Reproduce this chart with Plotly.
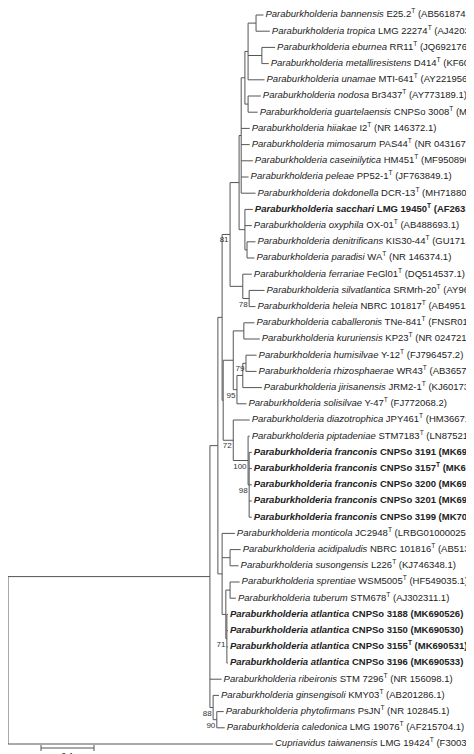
import plotly.graph_objects as go

# tip labels (html), tip depth (branch distance from root)
tips = [
 ("<i>Paraburkholderia bannensis</i> E25.2<sup>T</sup> (AB561874.1)", 0.482),
 ("<i>Paraburkholderia tropica</i> LMG 22274<sup>T</sup> (AJ420332.1)", 0.494),
 ("<i>Paraburkholderia eburnea</i> RR11<sup>T</sup> (JQ692176.1)", 0.504),
 ("<i>Paraburkholderia metalliresistens</i> D414<sup>T</sup> (KF601211.1)", 0.492),
 ("<i>Paraburkholderia unamae</i> MTI-641<sup>T</sup> (AY221956.1)", 0.484),
 ("<i>Paraburkholderia nodosa</i> Br3437<sup>T</sup> (AY773189.1)", 0.477),
 ("<i>Paraburkholderia guartelaensis</i> CNPSo 3008<sup>T</sup> (MK690537.1)", 0.471),
 ("<i>Paraburkholderia hiiakae</i> I2<sup>T</sup> (NR 146372.1)", 0.456),
 ("<i>Paraburkholderia mimosarum</i> PAS44<sup>T</sup> (NR 043167.1)", 0.456),
 ("<i>Paraburkholderia caseinilytica</i> HM451<sup>T</sup> (MF950896.1)", 0.462),
 ("<i>Paraburkholderia peleae</i> PP52-1<sup>T</sup> (JF763849.1)", 0.454),
 ("<i>Paraburkholderia dokdonella</i> DCR-13<sup>T</sup> (MH718804.2)", 0.467),
 ("<b><i>Paraburkholderia sacchari</i> LMG 19450<sup>T</sup> (AF263278.1)</b>", 0.462),
 ("<i>Paraburkholderia oxyphila</i> OX-01<sup>T</sup> (AB488693.1)", 0.460),
 ("<i>Paraburkholderia denitrificans</i> KIS30-44<sup>T</sup> (GU171384.1)", 0.467),
 ("<i>Paraburkholderia paradisi</i> WA<sup>T</sup> (NR 146374.1)", 0.465),
 ("<i>Paraburkholderia ferrariae</i> FeGl01<sup>T</sup> (DQ514537.1)", 0.460),
 ("<i>Paraburkholderia silvatlantica</i> SRMrh-20<sup>T</sup> (AY965240.1)", 0.484),
 ("<i>Paraburkholderia heleia</i> NBRC 101817<sup>T</sup> (AB495123.1)", 0.467),
 ("<i>Paraburkholderia caballeronis</i> TNe-841<sup>T</sup> (FNSR01000001.1)", 0.465),
 ("<i>Paraburkholderia kururiensis</i> KP23<sup>T</sup> (NR 024721.1)", 0.475),
 ("<i>Paraburkholderia humisilvae</i> Y-12<sup>T</sup> (FJ796457.2)", 0.469),
 ("<i>Paraburkholderia rhizosphaerae</i> WR43<sup>T</sup> (AB365791.2)", 0.469),
 ("<i>Paraburkholderia jirisanensis</i> JRM2-1<sup>T</sup> (KJ601731.1)", 0.479),
 ("<i>Paraburkholderia solisilvae</i> Y-47<sup>T</sup> (FJ772068.2)", 0.450),
 ("<i>Paraburkholderia diazotrophica</i> JPY461<sup>T</sup> (HM366717.1)", 0.456),
 ("<i>Paraburkholderia piptadeniae</i> STM7183<sup>T</sup> (LN875219.1)", 0.456),
 ("<b><i>Paraburkholderia franconis</i> CNPSo 3191 (MK690527)</b>", 0.460),
 ("<b><i>Paraburkholderia franconis</i> CNPSo 3157<sup>T</sup> (MK690525)</b>", 0.460),
 ("<b><i>Paraburkholderia franconis</i> CNPSo 3200 (MK690528)</b>", 0.460),
 ("<b><i>Paraburkholderia franconis</i> CNPSo 3201 (MK690529)</b>", 0.460),
 ("<b><i>Paraburkholderia franconis</i> CNPSo 3199 (MK704409.1)</b>", 0.460),
 ("<i>Paraburkholderia monticola</i> JC2948<sup>T</sup> (LRBG01000025.1)", 0.428),
 ("<i>Paraburkholderia acidipaludis</i> NBRC 101816<sup>T</sup> (AB513180.1)", 0.439),
 ("<i>Paraburkholderia susongensis</i> L226<sup>T</sup> (KJ746348.1)", 0.435),
 ("<i>Paraburkholderia sprentiae</i> WSM5005<sup>T</sup> (HF549035.1)", 0.437),
 ("<i>Paraburkholderia tuberum</i> STM678<sup>T</sup> (AJ302311.1)", 0.430),
 ("<b><i>Paraburkholderia atlantica</i> CNPSo 3188 (MK690526)</b>", 0.415),
 ("<b><i>Paraburkholderia atlantica</i> CNPSo 3150 (MK690530)</b>", 0.415),
 ("<b><i>Paraburkholderia atlantica</i> CNPSo 3155<sup>T</sup> (MK690531)</b>", 0.415),
 ("<b><i>Paraburkholderia atlantica</i> CNPSo 3196 (MK690533)</b>", 0.415),
 ("<i>Paraburkholderia ribeironis</i> STM 7296<sup>T</sup> (NR 156098.1)", 0.403),
 ("<i>Paraburkholderia ginsengisoli</i> KMY03<sup>T</sup> (AB201286.1)", 0.398),
 ("<i>Paraburkholderia phytofirmans</i> PsJN<sup>T</sup> (NR 102845.1)", 0.407),
 ("<i>Paraburkholderia caledonica</i> LMG 19076<sup>T</sup> (AF215704.1)", 0.409),
 ("<i>Cupriavidus taiwanensis</i> LMG 19424<sup>T</sup> (F300324.2)", 0.500),
]

# internal nodes: (depth, children, bootstrap); ints are tip indices
def N(d, ch, b=""):
    return (d, ch, b)

X = N(0.453, [N(0.468, [0, 1]), N(0.479, [2, 3]), 4])
G1 = N(0.447, [X, N(0.453, [5, 6])])
U = N(0.440, [G1, 7, 8, 9, 10, 11])
V = N(0.447, [12, 13, N(0.451, [14, 15])])
R = N(0.436, [U, V])
S = N(0.443, [16, N(0.455, [17, 18], "78")])
P = N(0.419, [R, S], "81")
Q = N(0.425, [N(0.445, [19, 20]),
              N(0.432, [N(0.443, [N(0.449, [21, 22], "79"), 23]), 24], "95")])
K = N(0.425, [25, N(0.453, [26, N(0.455, [27, 28, 29, 30, 31], "98")], "100")], "72")
B = N(0.404, [P, N(0.406, [Q, K])])
F = N(0.404, [32, N(0.419, [33, 34]),
              N(0.411, [N(0.419, [35, 36]), N(0.413, [37, 38, 39, 40], "71")])])
A = N(0.396, [B, F])
G = N(0.387, [42, N(0.394, [43, 44], "90")], "88")
ING = N(0.381, [A, 41, G])
tree = N(0.0, [ING, 45])

Y0, DY = 7.0, 16.2
lx, ly = [], []
boots = []

def layout(node):
    if isinstance(node, int):
        return tips[node][1], Y0 + DY * node
    d, ch, b = node
    ys = []
    for c in ch:
        cd, cy = layout(c)
        lx.extend([d, cd, None]); ly.extend([cy, cy, None])
        ys.append(cy)
    y = (min(ys) + max(ys)) / 2
    lx.extend([d, d, None]); ly.extend([min(ys), max(ys), None])
    if b:
        boots.append((d, y, b))
    return d, y

layout(tree)

PX = 530.0  # pixels per unit distance
fig = go.Figure()
fig.add_trace(go.Scatter(x=lx, y=ly, mode="lines", line=dict(color="#555555", width=1),
                         hoverinfo="skip", showlegend=False))
fig.add_trace(go.Scatter(x=[t[1] + 2 / PX for t in tips], y=[Y0 + DY * i for i in range(len(tips))],
                         mode="text", text=[t[0] for t in tips], textposition="middle right",
                         textfont=dict(family="Liberation Sans", size=9.5, color="#222"),
                         hoverinfo="skip", showlegend=False))
fig.add_trace(go.Scatter(x=[b[0] - 1.5 / PX for b in boots], y=[b[1] + 6 for b in boots],
                         mode="text", text=[b[2] for b in boots], textposition="middle left",
                         textfont=dict(family="Liberation Sans", size=8, color="#333"),
                         hoverinfo="skip", showlegend=False))
sb_x0 = 33 / PX
fig.add_trace(go.Scatter(x=[sb_x0, sb_x0 + 0.1, None, sb_x0, sb_x0, None, sb_x0 + 0.1, sb_x0 + 0.1],
                         y=[740, 740, None, 737, 743, None, 737, 743], mode="lines",
                         line=dict(color="#555555", width=1), hoverinfo="skip", showlegend=False))
fig.add_trace(go.Scatter(x=[sb_x0 + 0.05], y=[749], mode="text", text=["0.1"],
                         textfont=dict(family="Liberation Sans", size=9, color="#333"),
                         hoverinfo="skip", showlegend=False))

fig.update_layout(width=474, height=754, margin=dict(l=0, r=0, t=0, b=0),
                  plot_bgcolor="white", paper_bgcolor="white",
                  xaxis=dict(range=[0, 474 / PX], visible=False),
                  yaxis=dict(range=[754, 0], visible=False))
fig.write_html("out.html")
